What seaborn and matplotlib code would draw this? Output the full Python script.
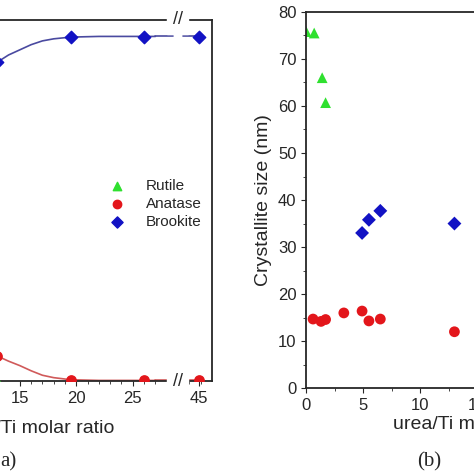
import matplotlib
matplotlib.use("Agg")
import matplotlib.pyplot as plt
import seaborn as sns
import numpy as np

sns.set_style("ticks")
plt.rcParams['font.family'] = ['Liberation Sans', 'DejaVu Sans']

# Panel (a): phase fraction vs urea/Ti molar ratio (break between 27 and 45)
a_x = [13, 19.5, 26, 45]
a_rutile = [0, 0, 0, 0]
a_anatase = [7.3, 0.3, 0.2, 0.2]
a_brookite = [92.7, 100, 100, 100]
fit_x = [12, 13, 14, 15, 16, 17, 18, 19.5, 22, 26, 27]
fit_brookite = [89, 92.7, 94.8, 96.3, 97.8, 98.9, 99.5, 100, 100.2, 100.2, 100.2]
fit_anatase = [10.5, 7.3, 5.8, 4.5, 3.0, 1.7, 1.0, 0.4, 0.2, 0.2, 0.2]
a_ticks = [15, 20, 25, 45]

# Panel (b): crystallite size
b_rut_x = [0, 0.7, 1.4, 1.7]
b_rut_y = [75.8, 75.5, 66, 60.7]
b_ana_x = [0.6, 1.3, 1.7, 3.3, 4.9, 5.5, 6.5, 13]
b_ana_y = [14.7, 14.2, 14.6, 16, 16.4, 14.3, 14.7, 12]
b_bro_x = [4.9, 5.5, 6.5, 13]
b_bro_y = [33, 35.8, 37.7, 35]

GREEN, RED, BLUE = "#2fe02f", "#e3161b", "#1212c4"

def u(x):
    x = np.asarray(x, float)
    return np.where(x > 30, 30.84, x)

fig = plt.figure(figsize=(4.74, 4.74), dpi=100)
ax = fig.add_axes([-0.3, 0.196, 0.747, 0.762])
sns.lineplot(x=fit_x, y=fit_brookite, ax=ax, color="#4a4aa0", lw=1.2)
sns.lineplot(x=fit_x, y=fit_anatase, ax=ax, color="#d05a5a", lw=1.2)
ax.plot([27, 28.6], [100.2, 100.2], color="#4a4aa0", lw=1.2)
ax.plot([29.4, 30.84], [100.2, 100.2], color="#4a4aa0", lw=1.2)
ax.plot([27, 28.6], [0.2, 0.2], color="#d05a5a", lw=1.2)
ax.plot([29.4, 30.84], [0.2, 0.2], color="#d05a5a", lw=1.2)
ax.scatter(u(a_x), a_rutile, marker="^", color=GREEN, s=45, zorder=3, label="Rutile")
ax.scatter(u(a_x), a_anatase, marker="o", color=RED, s=45, zorder=3, label="Anatase")
ax.scatter(u(a_x), a_brookite, marker="D", color=BLUE, s=40, zorder=3, label="Brookite")
ax.set_xlim(0.66, 32.0)
ax.set_ylim(0, 105)
ax.set_xticks(u(a_ticks))
ax.set_xticklabels([str(t) for t in a_ticks], fontsize=12)
ax.set_xticks([16, 17, 18, 19, 21, 22, 23, 24, 26, 27, 30, 31], minor=True)
ax.set_yticks([])
for s in ax.spines.values():
    s.set_linewidth(1.3)
for yy in (0, 105):
    ax.text(28.99, yy, "//", ha="center", va="center", fontsize=13,
            backgroundcolor="white", clip_on=False)
ax.set_xlabel("urea/Ti molar ratio", fontsize=14, labelpad=10)
ax.legend(loc="center right", bbox_to_anchor=(1.01, 0.49), frameon=False,
          fontsize=11, handletextpad=0.9, labelspacing=0.25, markerscale=0.9)

bx = fig.add_axes([0.646, 0.181, 0.7, 0.794])
sns.scatterplot(x=b_rut_x, y=b_rut_y, ax=bx, marker="^", color=GREEN, s=60, edgecolor="none")
sns.scatterplot(x=b_ana_x, y=b_ana_y, ax=bx, marker="o", color=RED, s=60, edgecolor="none")
sns.scatterplot(x=b_bro_x, y=b_bro_y, ax=bx, marker="D", color=BLUE, s=50, edgecolor="none")
bx.set_xlim(0, 29.1)
bx.set_ylim(0, 80)
bx.set_xticks([0, 5, 10, 15, 20, 25])
bx.set_yticks(range(0, 81, 10))
bx.set_yticks(range(5, 80, 10), minor=True)
bx.set_xticks(np.arange(2.5, 29, 5), minor=True)
bx.tick_params(labelsize=12)
for s in bx.spines.values():
    s.set_linewidth(1.3)
bx.set_ylabel("Crystallite size (nm)", fontsize=14)
bx.set_xlabel("urea/Ti molar ratio", fontsize=14, labelpad=2)

fig.text(0.0, 0.015, "a)", fontsize=15, fontfamily="Liberation Serif")
fig.text(0.88, 0.015, "(b)", fontsize=15, fontfamily="Liberation Serif")
fig.savefig("out.png", dpi=100)
